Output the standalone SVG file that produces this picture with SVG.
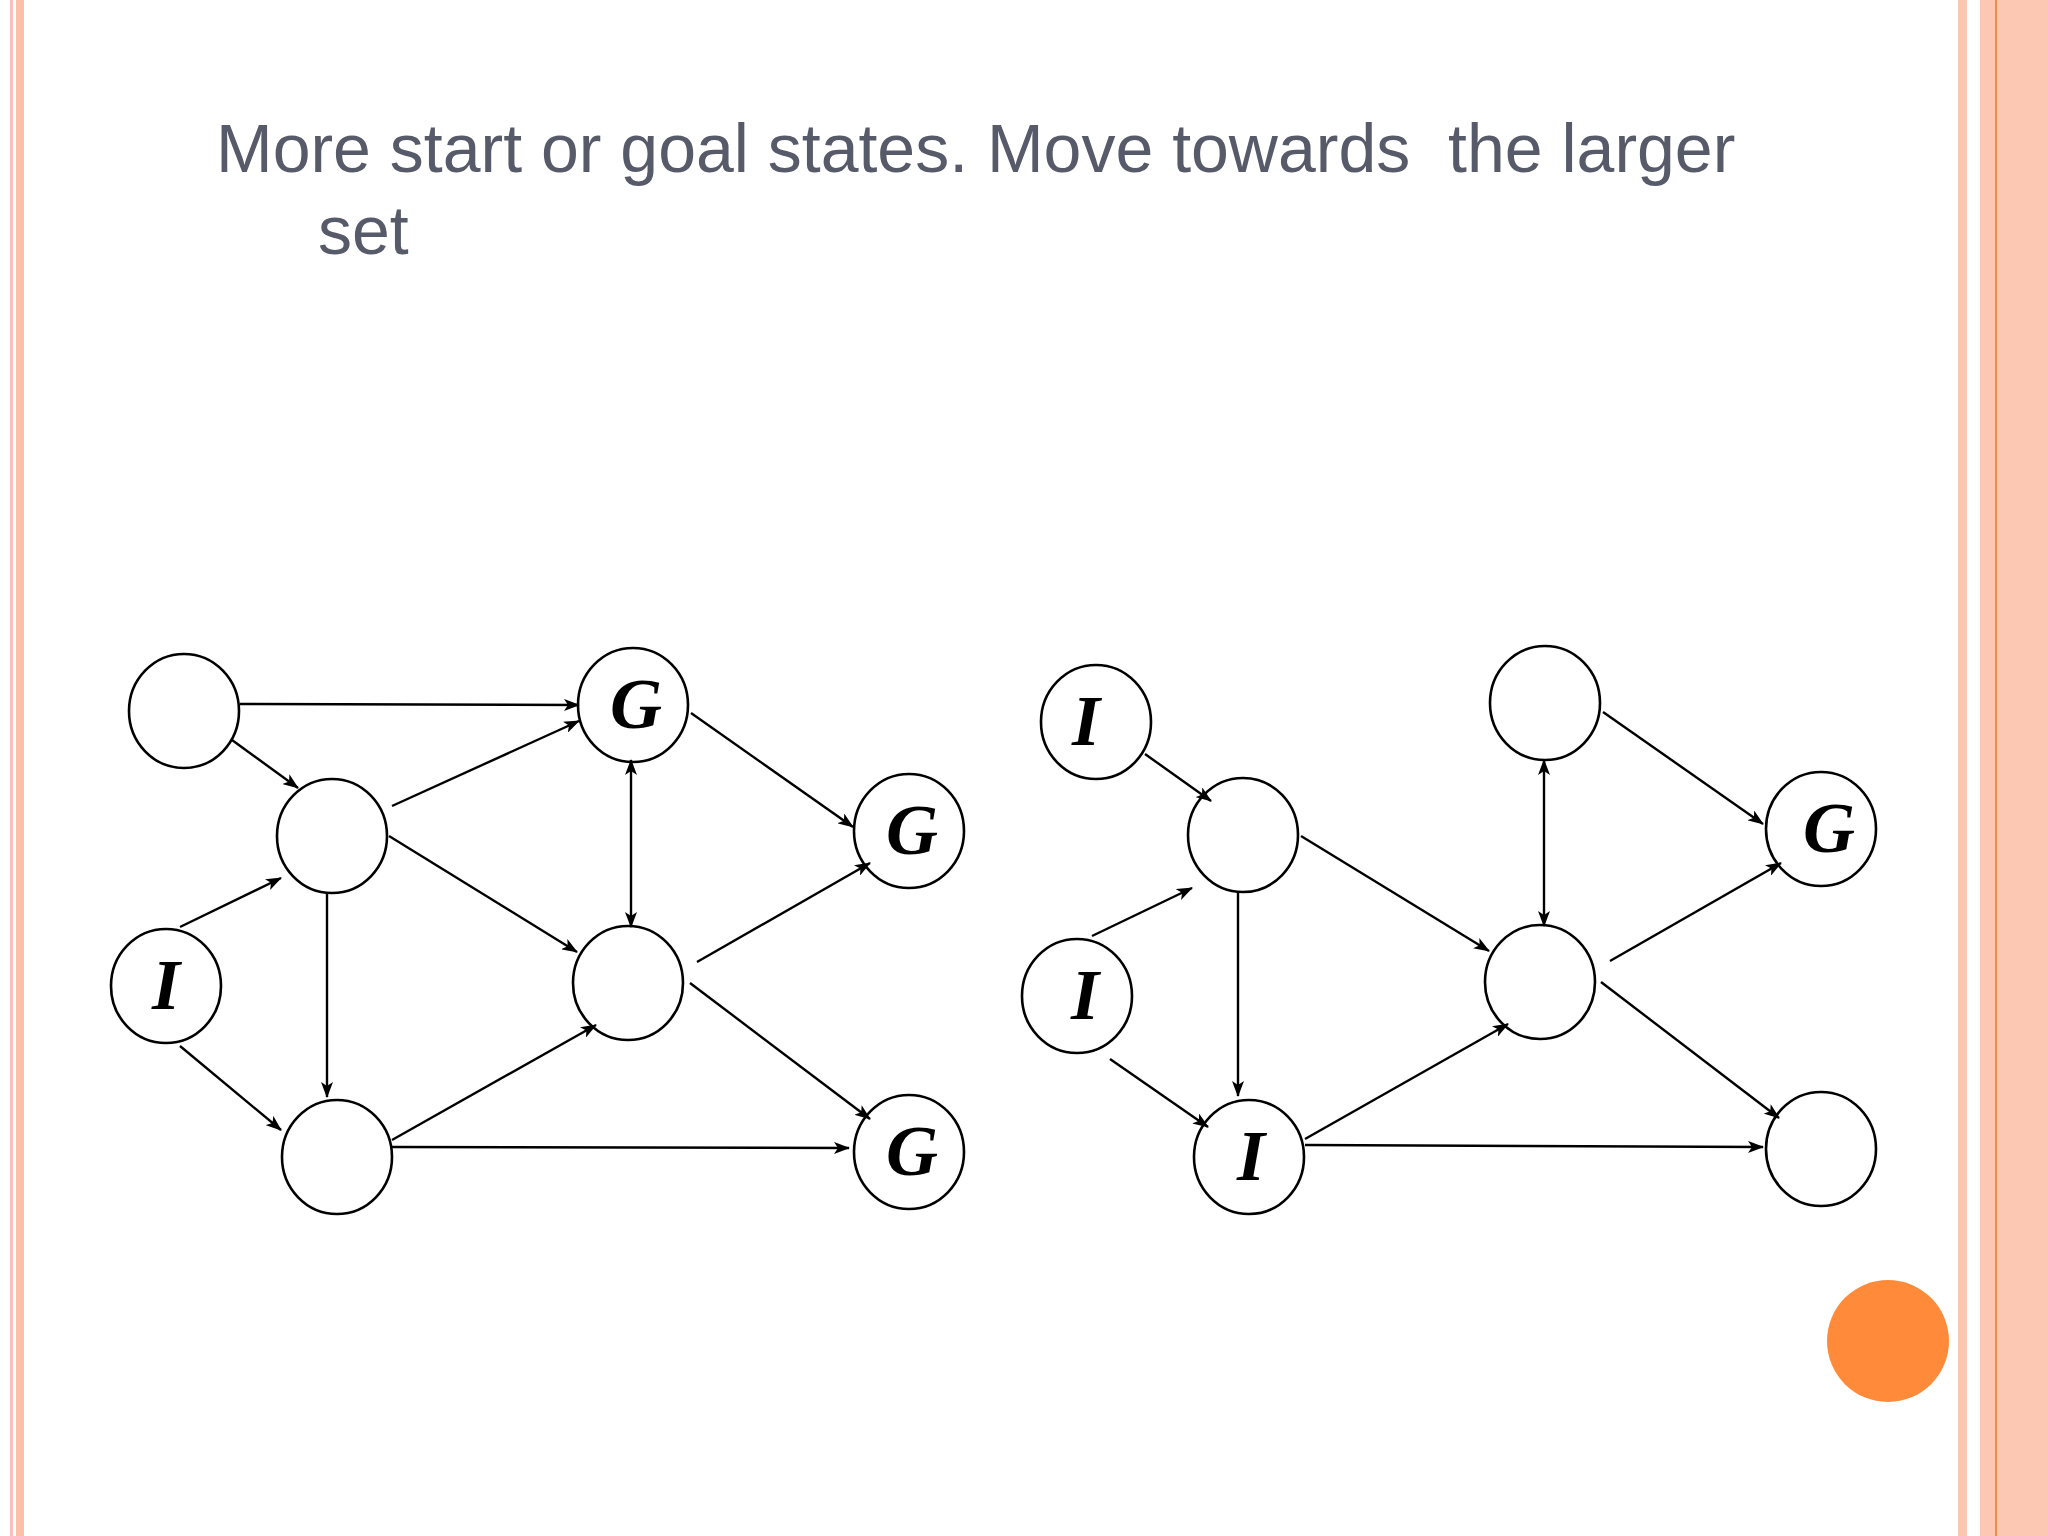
<svg xmlns="http://www.w3.org/2000/svg" width="2048" height="1536" viewBox="0 0 2048 1536">
<defs>
<marker id="ar" viewBox="0 0 16 12" refX="15" refY="6" markerWidth="16" markerHeight="12" markerUnits="userSpaceOnUse" orient="auto-start-reverse">
<path d="M0,0 L16,6 L0,12 L4,6 Z" fill="#000"/>
</marker>
</defs>
<style>
.n{fill:#fff;stroke:#000;stroke-width:2.6}
.e{stroke:#000;stroke-width:2.4;fill:none;marker-end:url(#ar)}
.b{marker-start:url(#ar)}
.l{font-family:"Liberation Serif",serif;font-weight:bold;font-style:italic;font-size:72px;text-anchor:middle}
.t{font-family:"Liberation Sans",Arial,sans-serif;font-size:68px;fill:#575a68}
</style>
<rect width="2048" height="1536" fill="#fff"/>
<rect x="10" y="0" width="3" height="1536" fill="#f4c2b8"/>
<rect x="16" y="0" width="8" height="1536" fill="#fcc0a8"/>
<rect x="1958" y="0" width="9" height="1536" fill="#fcc6b0"/>
<rect x="1980" y="0" width="68" height="1536" fill="#fcc7b3"/>
<rect x="1995" y="0" width="2" height="1536" fill="#f5894a"/>
<text class="t" x="216" y="172" xml:space="preserve">More start or goal states. Move towards  the larger</text>
<text class="t" x="318" y="254">set</text>
<circle cx="1888" cy="1341" r="61" fill="#ff8a3a"/>
<g id="nA"><ellipse class="n" cx="184" cy="711" rx="55" ry="57"/></g>
<g id="nB"><ellipse class="n" cx="332" cy="836" rx="55" ry="57"/></g>
<g id="nI1"><ellipse class="n" cx="166" cy="986" rx="55" ry="57"/><text class="l" x="166" y="1009">I</text></g>
<g id="nC"><ellipse class="n" cx="337" cy="1157" rx="55" ry="57"/></g>
<g id="nG1"><ellipse class="n" cx="633" cy="705" rx="55" ry="57"/><text class="l" x="636" y="728">G</text></g>
<g id="nM"><ellipse class="n" cx="628" cy="983" rx="55" ry="57"/></g>
<g id="nG2"><ellipse class="n" cx="909" cy="831" rx="55" ry="57"/><text class="l" x="912" y="854">G</text></g>
<g id="nG3"><ellipse class="n" cx="909" cy="1152" rx="55" ry="57"/><text class="l" x="912" y="1175">G</text></g>
<g id="nI2"><ellipse class="n" cx="1096" cy="722" rx="55" ry="57"/><text class="l" x="1086" y="745">I</text></g>
<g id="nB2"><ellipse class="n" cx="1243" cy="835" rx="55" ry="57"/></g>
<g id="nI3"><ellipse class="n" cx="1077" cy="996" rx="55" ry="57"/><text class="l" x="1085" y="1019">I</text></g>
<g id="nI4"><ellipse class="n" cx="1249" cy="1157" rx="55" ry="57"/><text class="l" x="1251" y="1180">I</text></g>
<g id="nT"><ellipse class="n" cx="1545" cy="703" rx="55" ry="57"/></g>
<g id="nM2"><ellipse class="n" cx="1540" cy="982" rx="55" ry="57"/></g>
<g id="nG4"><ellipse class="n" cx="1821" cy="829" rx="55" ry="57"/><text class="l" x="1829" y="852">G</text></g>
<g id="nE"><ellipse class="n" cx="1821" cy="1149" rx="55" ry="57"/></g>
<g id="connectors">
<line class="e" x1="240" y1="704" x2="579" y2="705"/>
<line class="e" x1="232" y1="740" x2="298" y2="788"/>
<line class="e" x1="392" y1="806" x2="579" y2="721"/>
<line class="e" x1="389" y1="836" x2="577" y2="952"/>
<line class="e" x1="180" y1="927" x2="281" y2="878"/>
<line class="e" x1="327" y1="893" x2="327" y2="1097"/>
<line class="e" x1="180" y1="1046" x2="281" y2="1130"/>
<line class="e" x1="392" y1="1140" x2="596" y2="1025"/>
<line class="e" x1="392" y1="1147" x2="849" y2="1148"/>
<line class="e b" x1="631" y1="760" x2="631" y2="927"/>
<line class="e" x1="691" y1="713" x2="853" y2="827"/>
<line class="e" x1="697" y1="962" x2="870" y2="863"/>
<line class="e" x1="690" y1="983" x2="870" y2="1119"/>
<line class="e" x1="1145" y1="754" x2="1211" y2="801"/>
<line class="e" x1="1092" y1="936" x2="1192" y2="888"/>
<line class="e" x1="1238" y1="893" x2="1238" y2="1096"/>
<line class="e" x1="1110" y1="1059" x2="1208" y2="1127"/>
<line class="e" x1="1301" y1="836" x2="1489" y2="951"/>
<line class="e" x1="1305" y1="1139" x2="1508" y2="1024"/>
<line class="e" x1="1305" y1="1145" x2="1763" y2="1147"/>
<line class="e b" x1="1544" y1="760" x2="1544" y2="926"/>
<line class="e" x1="1603" y1="712" x2="1763" y2="824"/>
<line class="e" x1="1610" y1="961" x2="1781" y2="863"/>
<line class="e" x1="1601" y1="982" x2="1779" y2="1118"/>
</g>
</svg>
